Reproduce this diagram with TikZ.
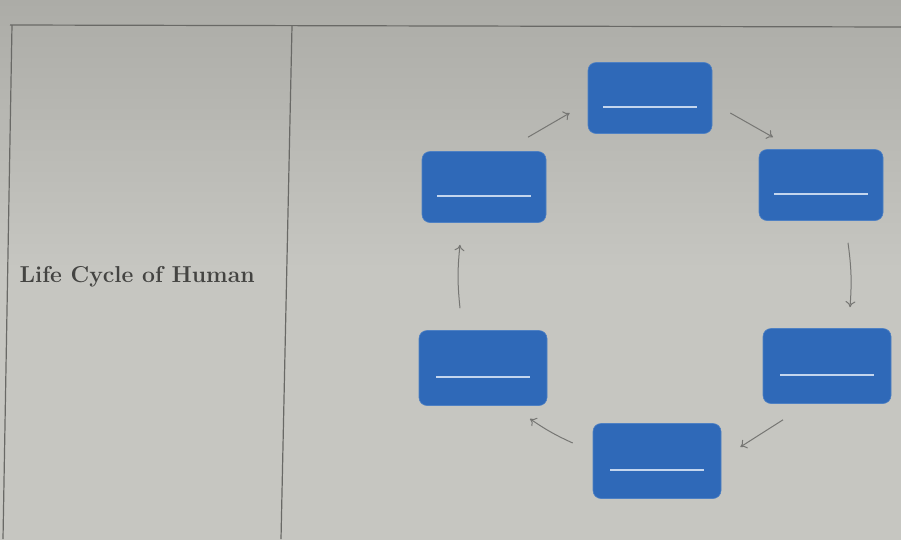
\documentclass[tikz,border=0pt]{standalone}
\usepackage{xcolor}
\usetikzlibrary{arrows.meta}

\definecolor{paper}{RGB}{198,198,193}
\definecolor{papertop}{RGB}{172,172,167}
\definecolor{rulegray}{RGB}{105,105,102}
\definecolor{stageblue}{RGB}{47,105,184}
\definecolor{blankline}{RGB}{196,214,238}
\definecolor{arrowgray}{RGB}{118,118,115}
\definecolor{inkgray}{RGB}{68,68,66}

\begin{document}
\begin{tikzpicture}[
  x=1pt, y=-1pt,
  stage/.style={rectangle, rounded corners=8pt, fill=stageblue, draw=stageblue!85!white, line width=0.6pt, minimum width=124pt, minimum height=71pt, inner sep=0pt},
  wide/.style={minimum width=128pt, minimum height=75pt},
  blank/.style={blankline, line width=1.3pt},
  arrow/.style={-{To[length=6pt,width=10pt]}, arrowgray, line width=1pt},
  frame/.style={rulegray, line width=1.2pt}
]

% paper and table
\shade[top color=papertop, bottom color=paper, middle color=paper] (0,0) rectangle (901,539);
\useasboundingbox (0,0) rectangle (901,539);
\draw[frame] (10,25) -- (901,27);
\draw[frame] (12,25) -- (3,539);
\draw[frame] (292,26) -- (281,539);

\node[inkgray, anchor=west, font=\fontsize{23}{28}\selectfont\bfseries] (title) at (16,277) {Life Cycle of Human};

% stages
\node[stage] (top) at (650,98) {};
\node[stage] (ur) at (821,185) {};
\node[stage, wide] (lr) at (827,366) {};
\node[stage, wide] (bot) at (657,461) {};
\node[stage, wide] (ll) at (483,368) {};
\node[stage] (ul) at (484,187) {};

\foreach \n in {top,ur,lr,bot,ll,ul}
  \draw[blank] ([shift={(-47,9)}]\n.center) -- ++(94,0);

% cycle arrows
\draw[arrow] ([shift={(18,15)}]top.east) -- ([shift={(-48,-12)}]ur.north);
\draw[arrow] ([shift={(27,22)}]ur.south) to[bend left=6] ([shift={(23,-21)}]lr.north);
\draw[arrow] ([shift={(-44,16)}]lr.south) -- ([shift={(19,-14)}]bot.east);
\draw[arrow] ([shift={(-20,-18)}]bot.west) to[bend left=5] ([shift={(47,13)}]ll.south);
\draw[arrow] ([shift={(-23,-22)}]ll.north) to[bend left=6] ([shift={(-24,22)}]ul.south);
\draw[arrow] ([shift={(44,-14)}]ul.north) -- ([shift={(-18,15)}]top.west);

\end{tikzpicture}
\end{document}
